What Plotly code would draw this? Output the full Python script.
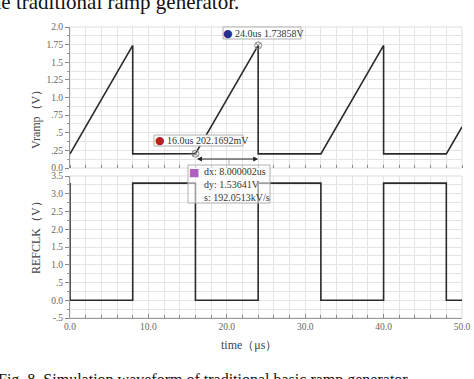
import plotly.graph_objects as go

# ---- data ----
t_ramp = [0, 8, 8, 16, 24, 24, 32, 40, 40, 48, 50]
v_ramp = [0.2, 1.7386, 0.2, 0.2022, 1.7386, 0.2, 0.2, 1.7386, 0.2, 0.2, 0.584]
t_clk = [0, 0, 8, 8, 16, 16, 24, 24, 32, 32, 40, 40, 48, 48, 50]
v_clk = [3.3, 0, 0, 3.3, 3.3, 0, 0, 3.3, 3.3, 0, 0, 3.3, 3.3, 0, 0]
cursor_t = [16.0, 24.0]
cursor_v = [0.2021692, 1.73858]
x_ticks = [0, 10, 20, 30, 40, 50]
x_labels = ["0.0", "10.0", "20.0", "30.0", "40.0", "50.0"]
y1_ticks = [0, 0.25, 0.5, 0.75, 1.0, 1.25, 1.5, 1.75, 2.0]
y1_labels = ["0.0", ".25", ".5", ".75", "1.0", "1.25", "1.5", "1.75", "2.0"]
y2_ticks = [-0.5, 0, 0.5, 1.0, 1.5, 2.0, 2.5, 3.0, 3.5]
y2_labels = ["-.5", "0.0", ".5", "1.0", "1.5", "2.0", "2.5", "3.0", "3.5"]

W, H = 474, 379
L, R, T, B = 70, 12, 27, 61
PW, PH = W - L - R, H - T - B

def py(pix):
    return (H - B - pix) / PH

def px(pix):
    return (pix - L) / PW

SERIF = "Liberation Serif, Times New Roman, serif"
LINE = "#2b2b2b"
GRID = "#e4e4e4"
TICKC = "#666666"

fig = go.Figure()
fig.add_trace(go.Scatter(x=t_ramp, y=v_ramp, mode="lines", xaxis="x", yaxis="y",
                         line=dict(color=LINE, width=1.6), showlegend=False, hoverinfo="skip"))
fig.add_trace(go.Scatter(x=t_clk, y=v_clk, mode="lines", xaxis="x2", yaxis="y2",
                         line=dict(color=LINE, width=1.6), showlegend=False, hoverinfo="skip"))
fig.add_trace(go.Scatter(x=cursor_t, y=cursor_v, mode="markers", xaxis="x", yaxis="y",
                         marker=dict(symbol="circle-x-open", size=7, color="#888888", line=dict(width=1)),
                         showlegend=False, hoverinfo="skip"))

ax_common = dict(range=[0, 50], showgrid=True, gridcolor=GRID, gridwidth=1, zeroline=False,
                 tickvals=x_ticks, ticktext=x_labels, automargin=False,
                 minor=dict(dtick=2, showgrid=True, gridcolor=GRID, ticks="inside", ticklen=3, tickcolor="#888"),
                 showline=True, linecolor="#999999", ticks="inside", ticklen=4, tickcolor="#888",
                 tickfont=dict(family=SERIF, size=9.5, color=TICKC))

fig.update_layout(
    width=W, height=H, margin=dict(l=L, r=R, t=T, b=B, autoexpand=False),
    paper_bgcolor="white", plot_bgcolor="white",
    xaxis=dict(ax_common, domain=[0, 1], anchor="y", showticklabels=False, showline=False, ticks=""),
    xaxis2=dict(ax_common, domain=[0, 1], anchor="y2", matches="x"),
    yaxis=dict(domain=[py(168), 1.0], range=[0, 2.0], tickvals=y1_ticks, ticktext=y1_labels,
               showgrid=True, gridcolor=GRID, zeroline=False, automargin=False,
               minor=dict(dtick=0.125, showgrid=True, gridcolor=GRID, ticks="outside", ticklen=2, tickcolor="#999"),
               showline=True, linecolor="#999999", ticks="outside", ticklen=4, tickcolor="#888",
               tickfont=dict(family=SERIF, size=9.5, color=TICKC)),
    yaxis2=dict(domain=[0, py(176)], range=[-0.5, 3.5], tickvals=y2_ticks, ticktext=y2_labels,
                showgrid=True, gridcolor=GRID, zeroline=False, automargin=False,
                minor=dict(dtick=0.25, showgrid=True, gridcolor=GRID, ticks="outside", ticklen=2, tickcolor="#999"),
                showline=True, linecolor="#999999", ticks="outside", ticklen=4, tickcolor="#888",
                tickfont=dict(family=SERIF, size=9.5, color=TICKC)),
)

# panel borders (light)
for yr in [(py(168), 1.0), (0, py(176))]:
    fig.add_shape(type="rect", xref="paper", yref="paper", x0=0, x1=1, y0=yr[0], y1=yr[1],
                  line=dict(color="#dddddd", width=1), layer="below")

def box(x0, y0, x1, y1, fill="white"):
    fig.add_shape(type="rect", xref="paper", yref="paper", x0=px(x0), x1=px(x1), y0=py(y1), y1=py(y0),
                  line=dict(color="#b0b0b0", width=1), fillcolor=fill, layer="above")

# label boxes
box(223, 27, 301, 39)
box(154, 135, 243, 146)
box(188, 165, 270, 203, fill="rgba(255,255,255,0.55)")
# small pointer from arrow to delta box
fig.add_shape(type="line", xref="paper", yref="paper", x0=px(229), x1=px(229), y0=py(160), y1=py(165),
              line=dict(color="#b0b0b0", width=1), layer="above")

def A(**kw):
    d = dict(showarrow=False, xanchor="center", yanchor="middle")
    d.update(kw)
    return d

ann = []
# axis titles
ann.append(A(text="Vramp（V）", xref="paper", yref="paper", x=px(36), y=py(117),
             textangle=-90, font=dict(family=SERIF, size=12, color="#444")))
ann.append(A(text="REFCLK（V）", xref="paper", yref="paper", x=px(36), y=py(235),
             textangle=-90, font=dict(family=SERIF, size=12, color="#444")))
ann.append(A(text="time（μs）", xref="paper", yref="paper", x=px(249), y=py(345),
             font=dict(family=SERIF, size=12, color="#444")))
# page text fragments
ann.append(A(text="the traditional ramp generator.", xref="paper", yref="paper", x=px(241), y=py(1.5),
             xanchor="right", font=dict(family=SERIF, size=21, color="#111")))
ann.append(A(text="Fig. 8. Simulation waveform of traditional basic ramp generator.", xref="paper", yref="paper",
             x=px(413), y=py(380), xanchor="right", font=dict(family=SERIF, size=16, color="#111")))
# cursor labels
ann.append(A(text="●", xref="paper", yref="paper", x=px(228), y=py(33),
             font=dict(family="DejaVu Sans", size=11, color="#24308f")))
ann.append(A(text="24.0us 1.73858V", xref="paper", yref="paper", x=px(233), y=py(33), xanchor="left",
             font=dict(family=SERIF, size=10, color="#333")))
ann.append(A(text="●", xref="paper", yref="paper", x=px(159.5), y=py(140.5),
             font=dict(family="DejaVu Sans", size=11, color="#b52020")))
ann.append(A(text="16.0us 202.1692mV", xref="paper", yref="paper", x=px(164.5), y=py(140.5), xanchor="left",
             font=dict(family=SERIF, size=10, color="#333")))
# delta arrow
ya = (168 - 159) / 70.5
ann.append(dict(x=cursor_t[1], y=ya, ax=cursor_t[0], ay=ya, xref="x", yref="y", axref="x", ayref="y",
                text="", showarrow=True, arrowhead=2, arrowside="end+start", arrowsize=1, arrowwidth=1,
                arrowcolor="#222"))
# delta box text
ann.append(A(text='dx: 8.000002us<br>dy: 1.53641V<br>s: 192.0513kV/s',
             xref="paper", yref="paper", x=px(202), y=py(184), xanchor="left", align="left",
             font=dict(family=SERIF, size=10, color="#333")))
ann.append(A(text="■", xref="paper", yref="paper", x=px(193.5), y=py(172),
             font=dict(family="DejaVu Sans", size=11, color="#b060c0")))
fig.update_layout(annotations=ann)

fig.write_html("out.html")
